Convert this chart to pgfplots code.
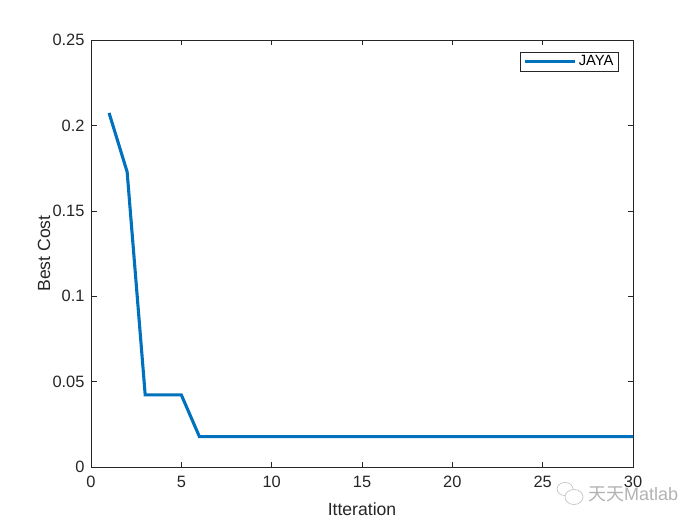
\documentclass[border=0pt]{standalone}
\usepackage{pgfplots}
\pgfplotsset{compat=1.18}
\usepackage{fontspec}
\setmainfont{Liberation Sans}
\newfontfamily\cjk{Noto Sans CJK SC}
\definecolor{mblue}{rgb}{0,0.447,0.741}
\definecolor{axgray}{rgb}{0.15,0.15,0.15}
\begin{document}
\begin{tikzpicture}[x=1pt,y=1pt]
\path[use as bounding box] (-91,-58) rectangle (609,467);
\begin{axis}[
  at={(0,0)}, anchor=south west,
  scale only axis, width=542pt, height=427pt,
  xmin=0, xmax=30, ymin=0, ymax=0.25,
  xtick={0,5,...,30},
  ytick={0,0.05,0.1,0.15,0.2,0.25},
  yticklabels={0,0.05,0.1,0.15,0.2,0.25},
  tick align=inside,
  major tick length=5.5pt,
  axis line style={axgray, line width=0.6pt},
  tick style={axgray, line width=0.6pt},
  every tick label/.append style={font=\fontsize{16.4}{19}\selectfont, text=axgray},
  xticklabel style={yshift=-6pt},
  yticklabel style={xshift=-3pt},
  /pgf/number format/assume math mode=true,
  xlabel={Itteration}, ylabel={Best Cost},
  label style={font=\fontsize{17.6}{20}\selectfont, text=axgray},
  xlabel style={at={(axis description cs:0.5,-0.0995)}, anchor=center},
  ylabel style={at={(axis description cs:-0.0867,0.5)}, anchor=center},
  legend style={at={(rel axis cs:0.974,0.972)}, anchor=north east, draw=axgray, line width=0.6pt,
    font=\fontsize{14.8}{17}\selectfont, inner xsep=3pt, inner ysep=1.5pt,
    nodes={inner sep=2pt}},
  legend cell align=left,
  legend image code/.code={\draw[#1, line width=3.2pt] (0pt,0pt) -- (50pt,0pt);},
]
\addplot[mblue, line width=3.1pt] coordinates {
(1,0.2073) (2,0.1728) (3,0.0422) (4,0.0422) (5,0.0422) (6,0.0178)
(7,0.0178) (8,0.0178) (9,0.0178) (10,0.0178) (11,0.0178) (12,0.0178)
(13,0.0178) (14,0.0178) (15,0.0178) (16,0.0178) (17,0.0178) (18,0.0178)
(19,0.0178) (20,0.0178) (21,0.0178) (22,0.0178) (23,0.0178) (24,0.0178)
(25,0.0178) (26,0.0178) (27,0.0178) (28,0.0178) (29,0.0178) (30,0.0178)
};
\addlegendentry{JAYA}
\end{axis}
\begin{scope}[black!25, line width=0.6pt]
\draw (474,-22) ellipse (8pt and 6.5pt);
\draw[fill=white] (483,-30) ellipse (9pt and 7.5pt);
\end{scope}
\node[anchor=west, text=black!30, font=\fontsize{18}{20}\selectfont, inner sep=0pt] at (497,-27) {{\cjk 天天}Matlab};
\end{tikzpicture}
\end{document}
